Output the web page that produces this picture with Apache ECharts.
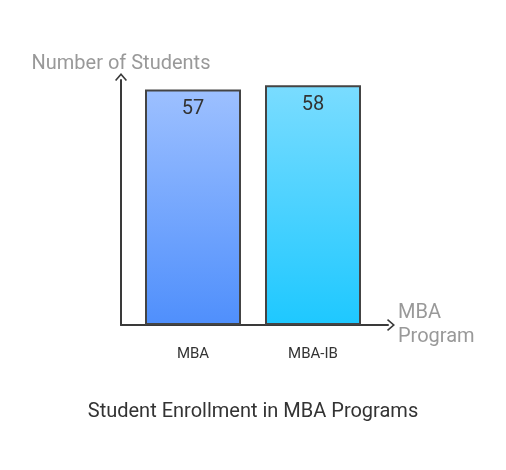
<!DOCTYPE html>
<html>
<head>
<meta charset="utf-8">
<script src="https://cdn.jsdelivr.net/npm/echarts@6/dist/echarts.min.js"></script>
<style>
  html, body { margin: 0; padding: 0; background: #fff; }
  #chart { width: 506px; height: 470px; }
</style>
</head>
<body>
<div id="chart"></div>
<script>
//--------------------- Data ---------------------------//
const programs = ['MBA', 'MBA-IB'];
const students = [57, 58];
const barTop = ['#9dc0ff', '#7adcff'];
const barBottom = ['#4f8ffc', '#1ec8ff'];

// open chevron used as axis arrow head (points up before rotation)
const chevron = 'path://M0,7 L6,0 L12,7 L10.8,8 L6,2.4 L1.2,8 Z';
const axisColor = '#3a3a3a';

const chart = echarts.init(document.getElementById('chart'));

const option = {
  textStyle: { fontFamily: 'Roboto' },
  title: {
    text: 'Student Enrollment in MBA Programs',
    left: 'center',
    top: 397,
    textStyle: { fontSize: 20, fontWeight: 'normal', color: '#333', fontFamily: 'Roboto' }
  },
  grid: [
    // axis lines only
    { left: 121, top: 80, width: 267, height: 245 },
    // bars
    { left: 133, top: 77, width: 240, height: 248 }
  ],
  xAxis: [
    {
      gridIndex: 0, type: 'value', min: 0, max: 1,
      axisLine: { lineStyle: { color: axisColor, width: 2 }, symbol: ['none', chevron], symbolSize: [12, 8], symbolOffset: [0, 3] },
      axisTick: { show: false }, axisLabel: { show: false }, splitLine: { show: false },
      name: 'MBA\nProgram', nameGap: 10,
      nameTextStyle: { color: '#999', fontSize: 20, lineHeight: 24, align: 'left', verticalAlign: 'middle', padding: [10, 0, 0, 0] }
    },
    {
      gridIndex: 1, type: 'category', data: programs,
      axisLine: { show: false }, axisTick: { show: false },
      axisLabel: { color: '#333', fontSize: 15, margin: 22 }
    }
  ],
  yAxis: [
    {
      gridIndex: 0, type: 'value', min: 0, max: 1,
      axisLine: { show: true, lineStyle: { color: axisColor, width: 2 }, symbol: ['none', chevron], symbolSize: [12, 8], symbolOffset: [0, 3] },
      axisTick: { show: false }, axisLabel: { show: false }, splitLine: { show: false },
      name: 'Number of Students', nameGap: 6,
      nameTextStyle: { color: '#999', fontSize: 20, align: 'center', padding: [0, 0, 0, 0] }
    },
    {
      gridIndex: 1, type: 'value', min: 0, max: 60, show: false
    }
  ],
  series: [{
    type: 'bar',
    xAxisIndex: 1,
    yAxisIndex: 1,
    barWidth: 96,
    data: students.map((v, i) => ({
      value: v,
      itemStyle: {
        color: new echarts.graphic.LinearGradient(0, 0, 0, 1, [
          { offset: 0, color: barTop[i] },
          { offset: 1, color: barBottom[i] }
        ]),
        borderColor: '#444',
        borderWidth: 2
      }
    })),
    label: {
      show: true, position: 'insideTop', distance: 10,
      color: '#333', fontSize: 20, fontFamily: 'Roboto'
    }
  }]
};

chart.setOption(option);
</script>
</body>
</html>
